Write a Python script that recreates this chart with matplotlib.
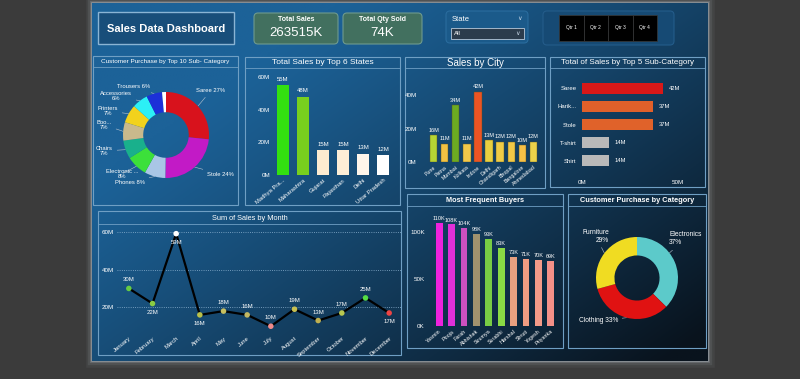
import numpy as np
import matplotlib.pyplot as plt
from matplotlib.patches import Rectangle, FancyBboxPatch
from matplotlib.ticker import FuncFormatter

plt.rcParams['font.family'] = ['Liberation Sans', 'DejaVu Sans']

# ---------------- data ----------------
total_sales = "263515K"
total_qty = "74K"
quarters = ["Qtr 1", "Qtr 2", "Qtr 3", "Qtr 4"]

subcat_names = ["Saree", "Stole", "Phones", "Electronic ...", "Chairs", "Boo...",
                "Printers", "Accessories", "Trousers", ""]
subcat_pct = [27, 24, 8, 8, 7, 7, 7, 6, 6, 1.5]
subcat_colors = ["#d8121c", "#c21ac6", "#a9c6e6", "#3ce03a", "#19b08c", "#c9b98c",
                 "#f2d21c", "#2cf0f6", "#1c30d8", "#ffffff"]

states = ["Madhya Pra...", "Maharashtra", "Gujarat", "Rajasthan", "Delhi", "Uttar Pradesh"]
state_sales = [55, 48, 15, 15, 13, 12]
state_colors = ["#33e010", "#78cf1e", "#fdebd0", "#fdeed6", "#fef5ea", "#ffffff"]

cities = ["Pune", "Patna", "Mumbai", "Kolkata", "Indore", "Delhi", "Chandigarh",
          "Bhopal", "Bangalore", "Ahmedabad"]
city_sales = [16, 11, 34, 11, 42, 13, 12, 12, 10, 12]
city_colors = ["#b6d534", "#f3c243", "#6cab22", "#f3c84a", "#ec5424", "#e9d040",
               "#f0cc46", "#f2c846", "#f6c046", "#ecd24a"]

top5_names = ["Saree", "Harik...", "Stole", "T-shirt", "Shirt"]
top5_sales = [42, 37, 37, 14, 14]
top5_colors = ["#d81818", "#e0602a", "#e0622a", "#b9b9b9", "#b9b9b9"]

months = ["January", "February", "March", "April", "May", "June", "July", "August",
          "September", "October", "November", "December"]
month_sales = [30, 22, 59, 16, 18, 16, 10, 19, 13, 17, 25, 17]
month_colors = ["#66cc44", "#8acc44", "#ffffff", "#b9c04a", "#c8c060", "#c2b862",
                "#f08a8a", "#c8c050", "#c0b050", "#b8c850", "#55dd44", "#ee4444"]
month_label_side = [1, -1, -1, -1, 1, 1, 1, 1, 1, 1, 1, -1]

buyers = ["Yasmin", "Pooja", "Farah", "Abhishek", "Soumya", "Surabhi", "Harshal",
          "Shruti", "Yogesh", "Priyanka"]
buyer_sales = [110, 108, 104, 98, 93, 83, 73, 71, 70, 69]
buyer_colors = ["#ee22dd", "#e030d8", "#cc50c0", "#a0926e", "#78cc44", "#8ada44",
                "#e8a080", "#f09c82", "#f49a88", "#f49088"]

categories = ["Electronics", "Clothing", "Furniture"]
category_pct = [37, 33, 29]
category_colors = ["#5ccaca", "#e01212", "#f0dc22"]

# ---------------- figure ----------------
W, H = 800, 379
fig = plt.figure(figsize=(8, 3.79), dpi=100, facecolor="#3b3b3b")
bg = fig.add_axes([0, 0, 1, 1])
bg.set_xlim(0, W)
bg.set_ylim(H, 0)
bg.axis("off")

WHITE = "#ffffff"
EDGE = "#6f9fc4"


def px_axes(x0, y0, x1, y1):
    ax = fig.add_axes([x0 / W, 1 - y1 / H, (x1 - x0) / W, (y1 - y0) / H])
    ax.set_facecolor("none")
    for s in ax.spines.values():
        s.set_visible(False)
    ax.tick_params(length=0, colors=WHITE, labelsize=4.5, pad=2)
    return ax


# glow + gradient background of the dashboard
for lw, a in [(9, 0.08), (6, 0.12), (3, 0.25), (1.2, 0.6)]:
    bg.add_patch(Rectangle((92, 3), 616, 358, fill=False, ec="#a8b0b8", lw=lw, alpha=a, zorder=0))
yy, xx = np.mgrid[0:1:200j, 0:1:400j]
t = np.clip(0.75 * xx + 0.6 * yy - 0.3, 0, 1) ** 1.1
c0 = np.array([0x1c, 0x62, 0x98]) / 255
c1 = np.array([0x09, 0x13, 0x1d]) / 255
img = c0 * (1 - t[..., None]) + c1 * t[..., None]
bg.imshow(img, extent=(92, 708, 361, 3), aspect="auto", zorder=1)
bg.set_xlim(0, W)
bg.set_ylim(H, 0)


def panel(x0, y0, x1, y1, title, size=5.5, weight="normal", bar=11):
    bg.add_patch(Rectangle((x0, y0), x1 - x0, y1 - y0, fill=False, ec=EDGE, lw=0.8, zorder=3))
    bg.plot([x0, x1], [y0 + bar, y0 + bar], color=EDGE, lw=0.6, zorder=3)
    bg.text((x0 + x1) / 2, y0 + bar / 2 + 0.5, title, color=WHITE, fontsize=size,
            fontweight=weight, ha="center", va="center", zorder=4)


# ---------------- header ----------------
bg.add_patch(Rectangle((98, 12), 136, 32, fc="#184e7a", ec="#8ab4d4", lw=1, zorder=3))
bg.text(166, 28.5, "Sales Data Dashboard", color=WHITE, fontsize=8, fontweight="bold",
        ha="center", va="center", zorder=4)

for (x0, x1), title, val in [((254, 338), "Total Sales", total_sales),
                             ((343, 422), "Total Qty Sold", total_qty)]:
    bg.add_patch(FancyBboxPatch((x0, 13), x1 - x0, 31, boxstyle="round,pad=0,rounding_size=4",
                                fc="#42705f", ec="#6e9a8e", lw=0.8, zorder=3))
    bg.text((x0 + x1) / 2, 19.5, title, color=WHITE, fontsize=5, fontweight="bold",
            ha="center", va="center", zorder=4)
    bg.text((x0 + x1) / 2, 33.5, val, color=WHITE, fontsize=9.5, ha="center", va="center", zorder=4)

bg.add_patch(FancyBboxPatch((446, 11), 82, 32, boxstyle="round,pad=0,rounding_size=4",
                            fc="#1b5a8a", ec="#2a6c9e", lw=0.8, zorder=3))
bg.text(452, 19.5, "State", color=WHITE, fontsize=5.5, ha="left", va="center", zorder=4)
bg.text(519, 18.5, "\u2228", color="#c8d8e8", fontsize=4.5, ha="center", va="center", zorder=4)
bg.add_patch(Rectangle((451, 28), 73, 11, fc="#2c3c4c", ec="#b8c8d8", lw=0.6, zorder=3))
bg.text(454, 33.5, "All", color=WHITE, fontsize=4.5, ha="left", va="center", zorder=4)
bg.text(517, 33.5, "\u2228", color="#c8d8e8", fontsize=4.5, ha="center", va="center", zorder=4)

bg.add_patch(FancyBboxPatch((543, 11), 131, 34, boxstyle="round,pad=0,rounding_size=4",
                            fc="#164a74", ec="#245c8a", lw=0.8, zorder=3))
qw = (657 - 559) / len(quarters)
for i, q in enumerate(quarters):
    bg.add_patch(Rectangle((559 + i * qw, 15), qw, 26, fc="#000000", ec="#3a3a3a", lw=0.5, zorder=3))
    bg.text(559 + (i + 0.5) * qw, 28, q, color=WHITE, fontsize=3.5, ha="center", va="center", zorder=4)

# ---------------- panels ----------------
panel(93, 56, 238, 205, "Customer Purchase by Top 10 Sub- Category", size=4.6)
panel(245, 57, 400, 205, "Total Sales by Top 6 States", size=6)
panel(405, 57, 545, 188, "Sales by City", size=7)
panel(550, 57, 705, 187, "Total of Sales by Top 5 Sub-Category", size=5.8)
panel(98, 211, 401, 355, "Sum of Sales by Month", size=5.3, bar=13)
panel(407, 194, 563, 348, "Most Frequent Buyers", size=5.3, weight="bold", bar=12)
panel(568, 194, 706, 348, "Customer Purchase by Category", size=5.3, weight="bold", bar=12)

# ---------------- donut: top 10 sub-category ----------------
cx, cy, R = 166, 135, 43
ax = px_axes(cx - 50, cy - 50, cx + 50, cy + 50)
wedges, _ = ax.pie(subcat_pct, colors=subcat_colors, startangle=90, counterclock=False,
                   wedgeprops=dict(width=0.47, edgecolor="none"))
ax.set_xlim(-50 / R, 50 / R)
ax.set_ylim(-50 / R, 50 / R)
sub_text = [(196, 91, "left"), (207, 174, "left"), (145, 182, "right"), (138, 174, "right"),
            (113, 151, "right"), (112, 125, "right"), (118, 111, "right"), (132, 96, "right"),
            (150, 87, "right")]
for w, name, pct, (tx, ty, ha) in zip(wedges, subcat_names, subcat_pct, sub_text):
    ang = np.deg2rad((w.theta1 + w.theta2) / 2)
    ex, ey = cx + R * np.cos(ang), cy - R * np.sin(ang)
    two_line = name not in ("Saree", "Stole", "Phones", "Trousers")
    label = f"{name}\n{pct}%" if two_line else f"{name} {pct}%"
    bg.annotate(label, xy=(ex, ey), xytext=(tx, ty), color=WHITE, fontsize=4.2, ha=ha,
                va="center", multialignment="center", zorder=6,
                arrowprops=dict(arrowstyle="-", color="#b8c4d0", lw=0.4, shrinkA=1, shrinkB=0))

# ---------------- bars: top 6 states ----------------
ax = px_axes(273, 77, 393, 175)
x = np.arange(len(states))
ax.bar(x, state_sales, width=0.62, color=state_colors)
ax.set_ylim(0, 60)
ax.set_xlim(-0.5, len(states) - 0.5)
ax.set_yticks([0, 20, 40, 60])
ax.yaxis.set_major_formatter(FuncFormatter(lambda v, p: f"{int(v)}M"))
ax.set_xticks(x, states, rotation=40, ha="right", rotation_mode="anchor", fontsize=4.2)
for xi, v in zip(x, state_sales):
    ax.text(xi, v + 2, f"{v}M", color=WHITE, fontsize=4.3, ha="center", va="bottom", clip_on=False)

# ---------------- bars: city ----------------
ax = px_axes(428, 87, 539, 162)
x = np.arange(len(cities))
ax.bar(x, city_sales, width=0.66, color=city_colors, edgecolor="#5a5020", linewidth=0.3)
ax.set_ylim(0, 45)
ax.set_xlim(-0.5, len(cities) - 0.5)
ax.set_yticks([0, 20, 40])
ax.yaxis.set_major_formatter(FuncFormatter(lambda v, p: f"{int(v)}M"))
ax.tick_params(axis="y", pad=8)
ax.set_xticks(x, cities, rotation=40, ha="right", rotation_mode="anchor", fontsize=3.8)
for xi, v in zip(x, city_sales):
    ax.text(xi, v + 1.5, f"{v}M", color=WHITE, fontsize=4.0, ha="center", va="bottom", clip_on=False)

# ---------------- hbars: top 5 sub-category ----------------
ax = px_axes(582, 79, 678, 170)
y = np.arange(len(top5_names))
ax.barh(y, top5_sales, height=0.6, color=top5_colors)
ax.set_xlim(0, 50)
ax.set_ylim(len(top5_names) - 0.5, -0.5)
ax.set_yticks(y, top5_names, fontsize=4.3)
ax.tick_params(axis="y", pad=4)
ax.set_xticks([0, 50])
ax.xaxis.set_major_formatter(FuncFormatter(lambda v, p: f"{int(v)}M"))
ax.tick_params(axis="x", pad=7)
for yi, v in zip(y, top5_sales):
    ax.text(v + 3, yi, f"{v}M", color=WHITE, fontsize=4.2, ha="left", va="center", clip_on=False)

# ---------------- line: month ----------------
ax = px_axes(117, 228, 401, 330)
x = np.arange(len(months))
ax.set_ylim(8, 62)
ax.set_xlim(-0.5, len(months) - 0.5)
ax.set_yticks([20, 40, 60])
ax.yaxis.set_major_formatter(FuncFormatter(lambda v, p: f"{int(v)}M"))
ax.grid(axis="y", color="#8fb4d2", linestyle=":", linewidth=0.6)
ax.set_axisbelow(True)
ax.plot(x, month_sales, color="#000000", lw=1.6, zorder=3)
ax.scatter(x, month_sales, s=16, c=month_colors, zorder=4, edgecolors="none")
ax.set_xticks(x, months, rotation=40, ha="right", rotation_mode="anchor", fontsize=4.2)
ax.tick_params(axis="x", pad=4)
for xi, v, side in zip(x, month_sales, month_label_side):
    ax.text(xi, v + side * 3.2, f"{v}M", color=WHITE, fontsize=4.3, ha="center",
            va="bottom" if side > 0 else "top", clip_on=False)

# ---------------- bars: buyers ----------------
ax = px_axes(433, 215, 557, 326)
x = np.arange(len(buyers))
ax.bar(x, buyer_sales, width=0.56, color=buyer_colors)
ax.set_ylim(0, 118)
ax.set_xlim(-0.5, len(buyers) - 0.5)
ax.set_yticks([0, 50, 100])
ax.yaxis.set_major_formatter(FuncFormatter(lambda v, p: f"{int(v)}K"))
ax.tick_params(axis="y", pad=6)
ax.set_xticks(x, buyers, rotation=40, ha="right", rotation_mode="anchor", fontsize=3.9)
for xi, v in zip(x, buyer_sales):
    ax.text(xi, v + 2, f"{v}K", color=WHITE, fontsize=4.0, ha="center", va="bottom", clip_on=False)

# ---------------- donut: category ----------------
cx, cy, R = 637, 278, 41
ax = px_axes(cx - 50, cy - 50, cx + 50, cy + 50)
wedges, _ = ax.pie(category_pct, colors=category_colors, startangle=90, counterclock=False,
                   wedgeprops=dict(width=0.45, edgecolor="none"))
ax.set_xlim(-50 / R, 50 / R)
ax.set_ylim(-50 / R, 50 / R)
cat_text = [(669, 239, "left", "left", True), (618, 321, "right", "right", False),
            (609, 236, "right", "right", True)]
for w, name, pct, (tx, ty, ha, ma, two) in zip(wedges, categories, category_pct, cat_text):
    ang = np.deg2rad((w.theta1 + w.theta2) / 2 + (15 if name == "Electronics" else 0))
    ex, ey = cx + R * np.cos(ang), cy - R * np.sin(ang)
    label = f"{name}\n{pct}%" if two else f"{name} {pct}%"
    bg.annotate(label, xy=(ex, ey), xytext=(tx, ty), color=WHITE, fontsize=4.8, ha=ha,
                va="center", multialignment=ma, zorder=6,
                arrowprops=dict(arrowstyle="-", color="#b8c4d0", lw=0.4, shrinkA=1, shrinkB=0))

fig.savefig("out.png", dpi=100, facecolor=fig.get_facecolor())
